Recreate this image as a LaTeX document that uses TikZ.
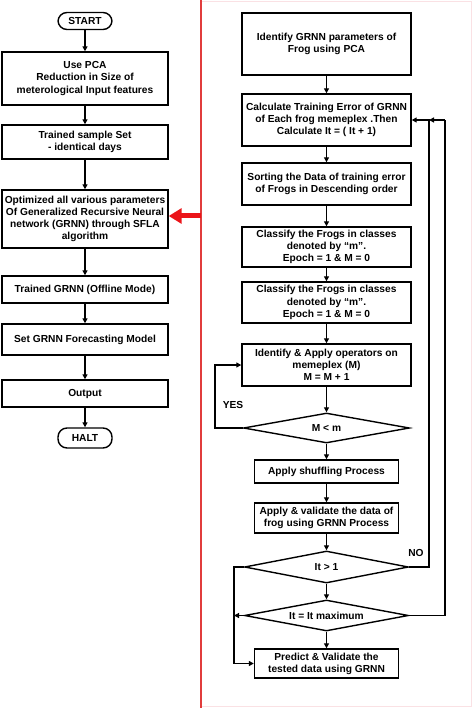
\documentclass[tikz,border=0pt]{standalone}
\usepackage{fontspec}
\setmainfont{Liberation Sans}
\usetikzlibrary{arrows.meta,shapes.geometric}
\definecolor{framered}{RGB}{225,60,60}
\definecolor{framepink}{RGB}{250,225,228}
\definecolor{arrred}{RGB}{235,20,25}
\begin{document}
\begin{tikzpicture}[x=1pt,y=-1pt,
  every node/.style={font=\fontsize{10.2}{12.2}\selectfont\bfseries, align=center, inner sep=0pt},
  box/.style={draw, line width=1.4pt, rectangle},
  term/.style={draw, line width=1.4pt, rectangle, rounded corners=9pt},
  dec/.style={draw, line width=1.4pt, diamond, aspect=5.3},
  arr/.style={line width=1.4pt, -{Triangle[length=5pt,width=5pt]}},
  ln/.style={line width=1.4pt}]
\useasboundingbox (0,0) rectangle (474,708);
% frame
\draw[framepink, line width=1pt] (201,2) rectangle (471,706);
\draw[framered, line width=1.2pt] (201,0) -- (201,708);
% left column
\node[term, minimum width=54pt, minimum height=17pt] (start) at (85,21) {START};
\node[box, minimum width=166pt, minimum height=53pt] (b1) at (85,78.5) {Use PCA\\Reduction in Size of\\meterological Input features};
\node[box, minimum width=166pt, minimum height=34pt] (b2) at (85,142) {Trained sample Set\\- identical days};
\node[box, minimum width=166pt, minimum height=58pt] (b3) at (85,219) {Optimized all various parameters\\Of Generalized Recursive Neural\\network (GRNN) through SFLA\\algorithm};
\node[box, minimum width=166pt, minimum height=27pt] (b4) at (85,289.5) {Trained GRNN (Offline Mode)};
\node[box, minimum width=166pt, minimum height=31pt] (b5) at (85,339.5) {Set GRNN Forecasting Model};
\node[box, minimum width=166pt, minimum height=27pt] (b6) at (85,393.5) {Output};
\node[term, minimum width=54pt, minimum height=20pt] (halt) at (85,438) {HALT};
\draw[arr] (start) -- (b1);
\draw[arr] (b1) -- (b2);
\draw[arr] (b2) -- (b3);
\draw[arr] (b3) -- (b4);
\draw[arr] (b4) -- (b5);
\draw[arr] (b5) -- (b6);
\draw[arr] (b6) -- (halt);
% red arrow
\coordinate (ra) at (201,216);
\draw[arrred, line width=5pt, -{Triangle[length=13pt,width=15pt]}] (ra) -- (b3.east |- ra);
% right column
\node[box, minimum width=169pt, minimum height=62pt] (r1) at (326.5,44) {Identify GRNN parameters of\\Frog using PCA};
\node[box, minimum width=169pt, minimum height=52pt] (r2) at (326.5,120) {Calculate Training Error of GRNN\\of Each frog memeplex .Then\\Calculate It = ( It + 1)};
\node[box, minimum width=169pt, minimum height=42pt] (r3) at (326.5,184) {Sorting the Data of training error\\of Frogs in Descending order};
\node[box, minimum width=169pt, minimum height=40pt] (r4) at (326.5,247) {Classify the Frogs in classes\\denoted by “m”.\\Epoch = 1 \& M = 0};
\node[box, minimum width=169pt, minimum height=41pt] (r5) at (326.5,302.5) {Classify the Frogs in classes\\denoted by “m”.\\Epoch = 1 \& M = 0};
\node[box, minimum width=169pt, minimum height=42pt] (r6) at (326.5,365) {Identify \& Apply operators on\\memeplex (M)\\M = M + 1};
\node[dec, minimum width=166pt, minimum height=30pt] (d1) at (326.5,428) {M < m};
\node[box, minimum width=144pt, minimum height=23pt] (r7) at (326.5,471.5) {Apply shuffling Process};
\node[box, minimum width=144pt, minimum height=30pt] (r8) at (326.5,518) {Apply \& validate the data of\\frog using GRNN Process};
\node[dec, minimum width=164pt, minimum height=32pt] (d2) at (326.5,567) {It > 1};
\node[dec, minimum width=164pt, minimum height=31pt] (d3) at (326.5,615.5) {It = It maximum};
\node[box, minimum width=144pt, minimum height=29pt] (r9) at (326.5,663.5) {Predict \& Validate the\\tested data using GRNN};
\draw[arr] (r1) -- (r2);
\draw[arr] (r2) -- (r3);
\draw[arr] (r3) -- (r4);
\draw[arr] (r4) -- (r5);
\draw[arr] (r5) -- (r6);
\draw[arr] (r6) -- (d1);
\draw[arr] (d1) -- (r7);
\draw[arr] (r7) -- (r8);
\draw[arr] (r8) -- (d2);
\draw[arr] (d2) -- (d3);
\draw[arr] (d3) -- (r9);
% YES loop
\coordinate (yx) at (215,428);
\draw[arr] (d1.west) -- (yx) |- (r6.west);
\node (yes) at (233,405) {YES};
% NO loop
\coordinate (n1) at (429,120);
\coordinate (m1) at (445,120);
\draw[arr] (d2.east) -| (n1) -- (n1 -| r2.east);
\draw[ln] (d3.east) -| (m1);
\draw[arr] (m1) -- (n1);
\node (no) at (416,553) {NO};
% left merge
\coordinate (lx) at (234,567);
\draw[arr] (d2.west) -- (lx) |- (r9.west);
\draw[arr] (d3.west) -- (lx |- d3.west);
\end{tikzpicture}
\end{document}
